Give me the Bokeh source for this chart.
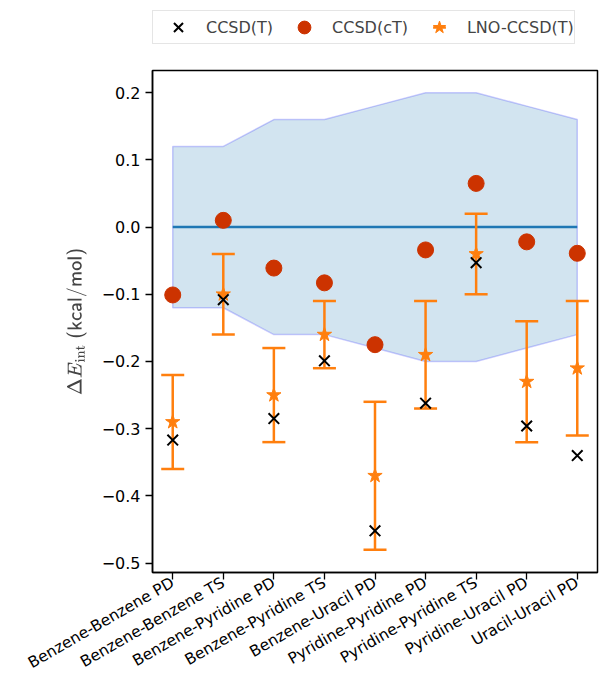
import math
from bokeh.plotting import figure
from bokeh.layouts import column
from bokeh.models import (ColumnDataSource, Range1d, FixedTicker, CustomJSTickFormatter,
                          Legend, LegendItem)
from bokeh.embed import file_html
from bokeh.resources import INLINE

systems = ['Benzene-Benzene PD', 'Benzene-Benzene TS', 'Benzene-Pyridine PD',
           'Benzene-Pyridine TS', 'Benzene-Uracil PD', 'Pyridine-Pyridine PD',
           'Pyridine-Pyridine TS', 'Pyridine-Uracil PD', 'Uracil-Uracil PD']
ccsd_t = [-0.317, -0.108, -0.285, -0.199, -0.452, -0.262, -0.053, -0.296, -0.340]
ccsd_ct = [-0.101, 0.010, -0.061, -0.083, -0.175, -0.034, 0.065, -0.022, -0.039]
lno = [-0.29, -0.10, -0.25, -0.16, -0.37, -0.19, -0.04, -0.23, -0.21]
lno_err = [0.07, 0.06, 0.07, 0.05, 0.11, 0.08, 0.06, 0.09, 0.10]
band = [0.12, 0.12, 0.16, 0.16, 0.18, 0.20, 0.20, 0.18, 0.16]
y_ticks = [0.2, 0.1, 0.0, -0.1, -0.2, -0.3, -0.4, -0.5]

idx = list(range(len(systems)))
FONT = "DejaVu Sans"
ORANGE = "#ff7f0e"
RED = "#cc3300"

src = ColumnDataSource(data=dict(
    x=idx, name=systems, ccsd_t=ccsd_t, ccsd_ct=ccsd_ct, lno=lno,
    lo=[v - e for v, e in zip(lno, lno_err)],
    hi=[v + e for v, e in zip(lno, lno_err)],
    zero=[0.0] * len(idx),
))

fig = figure(width=614, height=630, output_backend="svg", toolbar_location=None,
             x_range=Range1d(-0.4, 8.4), y_range=Range1d(-0.514, 0.233),
             min_border_left=152, min_border_right=17, min_border_top=15,
             min_border_bottom=113, background_fill_color="white")

# uncertainty band around zero
fig.patch(idx + idx[::-1], band + [-b for b in band][::-1],
          fill_color="#1f77b4", fill_alpha=0.2, line_color="blue", line_alpha=0.2,
          line_width=1.5)
fig.line('x', 'zero', source=src, line_color="#1f77b4", line_width=2.5)

# LNO-CCSD(T) error bars
fig.segment(x0='x', y0='lo', x1='x', y1='hi', source=src, line_color=ORANGE, line_width=2.5)
fig.scatter('x', 'lo', source=src, marker="dash", size=23, line_color=ORANGE, line_width=2.5)
fig.scatter('x', 'hi', source=src, marker="dash", size=23, line_color=ORANGE, line_width=2.5)
fig.scatter('x', 'lno', source=src, marker="star", size=15, fill_color=ORANGE, line_color=ORANGE)

fig.scatter('x', 'ccsd_t', source=src, marker="x", size=15, line_color="black", line_width=2)
fig.scatter('x', 'ccsd_ct', source=src, marker="circle", size=16, fill_color=RED, line_color=RED)

fig.xaxis.ticker = FixedTicker(ticks=idx)
fig.xaxis.major_label_overrides = {i: s for i, s in zip(idx, systems)}
fig.xaxis.major_label_orientation = math.pi / 6
fig.yaxis.ticker = FixedTicker(ticks=y_ticks)
fig.yaxis.formatter = CustomJSTickFormatter(code="return tick.toFixed(1).replace('-', '\u2212')")
fig.yaxis.axis_label = r"$$\Delta E_\mathrm{int}\ \mathsf{(kcal/mol)}$$"
fig.yaxis.axis_label_standoff = 12

for ax in (fig.xaxis, fig.yaxis):
    ax.major_label_text_font = FONT
    ax.major_label_text_font_size = "16px"
    ax.major_label_text_color = "black"
    ax.axis_label_text_font = FONT
    ax.axis_label_text_font_size = "16px"
    ax.axis_label_text_font_style = "normal"
    ax.axis_line_color = "black"
    ax.axis_line_width = 1.5
    ax.major_tick_line_color = "black"
    ax.major_tick_line_width = 1.3
    ax.major_tick_in = 0
    ax.major_tick_out = 7
    ax.minor_tick_line_color = None
    ax.major_label_standoff = 5
fig.xaxis.major_label_standoff = 2
fig.xaxis.major_label_text_font_size = "15.5px"

fig.xgrid.grid_line_color = None
fig.ygrid.grid_line_color = None
fig.outline_line_color = "black"
fig.outline_line_width = 1.5
fig.outline_line_alpha = 1.0

# legend strip above the plot (handles only; its frame lines up with the plot's)
lg = figure(width=614, height=55, output_backend="svg", toolbar_location=None,
            x_range=Range1d(0, 1), y_range=Range1d(0, 1),
            x_axis_type=None, y_axis_type=None, min_border=0)
lg.outline_line_color = None
lg.xgrid.grid_line_color = None
lg.ygrid.grid_line_color = None
nan = float("nan")
handle = dict(x=[nan], y=[nan])
h_x = lg.scatter('x', 'y', source=ColumnDataSource(handle), marker="x",
                 line_color="black", line_width=2)
h_dot = lg.scatter('x', 'y', source=ColumnDataSource(handle), marker="circle",
                   fill_color=RED, line_color=RED)
h_bar = lg.scatter('x', 'y', source=ColumnDataSource(handle), marker="square",
                   fill_color=None, line_color=ORANGE, line_width=2.5, line_alpha=0.0)
h_cap = lg.scatter('x', 'y', source=ColumnDataSource(handle), marker="dash",
                   line_color=ORANGE, line_width=2.5)
h_star = lg.scatter('x', 'y', source=ColumnDataSource(handle), marker="star",
                    fill_color=ORANGE, line_color=ORANGE)

legend = Legend(items=[
    LegendItem(label="CCSD(T)", renderers=[h_x]),
    LegendItem(label="CCSD(cT)", renderers=[h_dot]),
    LegendItem(label="LNO-CCSD(T)", renderers=[h_cap, h_star]),
], orientation="horizontal", location=(0, 11))
legend.label_text_font = FONT
legend.label_text_font_size = "16px"
legend.glyph_width = 50
legend.glyph_height = 32
legend.label_height = 16
legend.label_standoff = 3
legend.spacing = 6
legend.padding = 0
legend.margin = 0
legend.border_line_color = "#cccccc"
legend.border_line_width = 1.5
lg.add_layout(legend)

p = column(lg, fig)
open("out.html", "w").write(file_html(p, INLINE))
